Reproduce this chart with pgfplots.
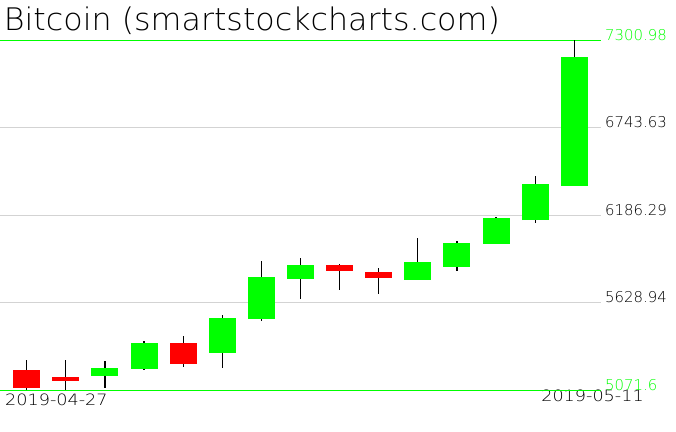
\documentclass[border=0pt]{standalone}
\usepackage{pgfplots}
\pgfplotsset{compat=1.18}
\usepackage{pgfplotstable}
\usepackage{graphicx}
\usepackage{fontspec}
\setmainfont{DejaVu Sans ExtraLight}
\definecolor{cgreen}{HTML}{00FF00}
\definecolor{cred}{HTML}{FF0000}
\definecolor{cgrid}{HTML}{D3D3D3}

% wicks: x, low, range
\pgfplotstableread{
x low rng
0 5071.6 193.0
1 5073.0 191.6
2 5088.1 170.1
3 5202.8 182.8
4 5221.9 195.6
5 5215.6 335.7
6 5514.9 380.3
7 5655.1 259.2
8 5712.4 163.7
9 5686.9 163.7
10 5776.1 265.6
11 5833.4 189.2
12 6003.5 172.0
13 6139.1 299.4
14 6374.8 926.18
}\wicks
% green bodies: x, open, close-open
\pgfplotstableread{
x lo len
2 5164.6 49.0
3 5209.2 163.7
5 5311.1 221.1
6 5525.7 267.6
7 5782.4 87.3
10 5776.1 112.8
11 5857.0 152.8
12 6003.5 165.6
13 6156.3 229.3
14 6374.8 819.8
}\upbodies
% red bodies: x, close, open-close
\pgfplotstableread{
x lo len
0 5088.1 112.8
1 5132.8 23.5
4 5241.0 131.9
8 5833.4 36.3
9 5788.8 36.3
}\downbodies

\begin{document}
\begin{tikzpicture}
\useasboundingbox (0pt,-40.7pt) rectangle (676pt,390.3pt);
\begin{axis}[
  at={(0pt,0pt)}, anchor=south west,
  scale only axis, width=600.5pt, height=350pt,
  xmin=-0.6827, xmax=14.671,
  ymin=5071.6, ymax=7300.98,
  clip=false,
  axis line style={draw=none},
  major tick length=0pt,
  tick style={draw=none},
  ytick={5628.94,6186.29,6743.63},
  yticklabels={5628.94,6186.29,6743.63},
  yticklabel pos=right,
  ymajorgrids,
  grid style={cgrid, line width=1pt},
  yticklabel style={anchor=base west, inner sep=0pt, xshift=4.5pt,
    font=\fontsize{14.9}{16}\selectfont, text=black},
  extra y ticks={5071.6,7300.98},
  extra y tick labels={5071.6,7300.98},
  extra y tick style={grid style={cgreen, line width=1.3pt},
    yticklabel style={text=cgreen}},
  xtick={0},
  xticklabels={\scalebox{1.13}[1]{2019-04-27}},
  xticklabel style={anchor=base west, inner sep=0pt, xshift=-21.7pt, yshift=-15.4pt,
    font=\fontsize{15.6}{17}\selectfont},
  extra x ticks={14},
  extra x tick labels={\scalebox{1.13}[1]{2019-05-11}},
  extra x tick style={xticklabel style={anchor=base east, xshift=91.4pt, yshift=4.7pt}},
  title={\scalebox{1.02}[1]{Bitcoin (smartstockcharts.com)}},
  title style={at={(rel axis cs:0,1)}, anchor=base west, inner sep=0pt,
    xshift=3.7pt, yshift=3.6pt, font=\fontsize{31.1}{34}\selectfont},
]
\addplot[draw=none, mark=none,
  error bars/.cd, y dir=plus, y explicit, error mark=none,
  error bar style={draw=black, line width=1.2pt, solid}]
  table[x=x, y=low, y error plus=rng] {\wicks};
\addplot[draw=none, mark=none,
  error bars/.cd, y dir=plus, y explicit, error mark=none,
  error bar style={draw=cgreen, line width=27pt, solid, line cap=butt}]
  table[x=x, y=lo, y error plus=len] {\upbodies};
\addplot[draw=none, mark=none,
  error bars/.cd, y dir=plus, y explicit, error mark=none,
  error bar style={draw=cred, line width=27pt, solid, line cap=butt}]
  table[x=x, y=lo, y error plus=len] {\downbodies};
\end{axis}
\end{tikzpicture}
\end{document}
